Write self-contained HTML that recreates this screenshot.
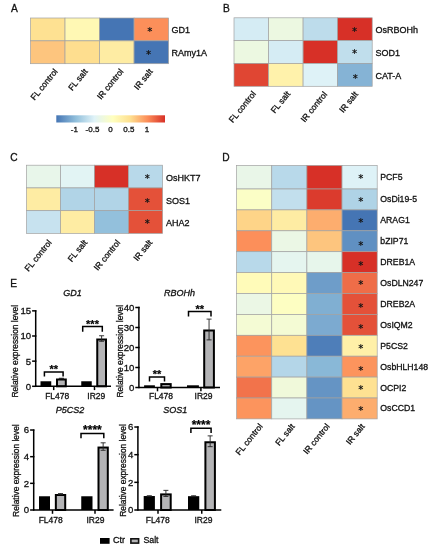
<!DOCTYPE html>
<html><head><meta charset="utf-8"><title>Figure</title>
<style>
html,body{margin:0;padding:0;background:#fff;}
svg{display:block;font-family:"Liberation Sans",sans-serif;}
text{stroke:#111;stroke-width:.3px;}
.sg{font-weight:bold;fill:#000;stroke:#000;stroke-width:.2px;}
.st{font-family:"DejaVu Sans",sans-serif;font-weight:bold;fill:#151515;stroke:none;}
</style></head><body>
<svg width="432" height="550" viewBox="0 0 432 550">
<rect width="432" height="550" fill="#fff"/>
<text x="11" y="11.9" font-size="10.2" fill="#111">A</text>
<text x="223" y="12" font-size="10.2" fill="#111">B</text>
<text x="10.2" y="160.6" font-size="10.2" fill="#111">C</text>
<text x="222.3" y="160.8" font-size="10.2" fill="#111">D</text>
<text x="10.2" y="287" font-size="10.2" fill="#111">E</text>
<rect x="30.50" y="18.00" width="34.53" height="22.85" fill="#fee192" stroke="#a2a2a2" stroke-width="0.7"/>
<rect x="65.03" y="18.00" width="34.52" height="22.85" fill="#fff8b4" stroke="#a2a2a2" stroke-width="0.7"/>
<rect x="99.55" y="18.00" width="34.52" height="22.85" fill="#4575b4" stroke="#a2a2a2" stroke-width="0.7"/>
<rect x="134.07" y="18.00" width="34.53" height="22.85" fill="#fc8f5a" stroke="#a2a2a2" stroke-width="0.7"/>
<rect x="30.50" y="40.85" width="34.53" height="22.85" fill="#fdc57e" stroke="#a2a2a2" stroke-width="0.7"/>
<rect x="65.03" y="40.85" width="34.52" height="22.85" fill="#fede8f" stroke="#a2a2a2" stroke-width="0.7"/>
<rect x="99.55" y="40.85" width="34.52" height="22.85" fill="#feeca3" stroke="#a2a2a2" stroke-width="0.7"/>
<rect x="134.07" y="40.85" width="34.53" height="22.85" fill="#4575b4" stroke="#a2a2a2" stroke-width="0.7"/>
<text class="st" x="149.75" y="34.65" font-size="9.8" text-anchor="middle">*</text>
<text x="171.60" y="33.23" font-size="9" fill="#111">GD1</text>
<text class="st" x="148.50" y="57.90" font-size="9.8" text-anchor="middle">*</text>
<text x="171.60" y="56.08" font-size="9" fill="#111">RAmy1A</text>
<text transform="translate(58.20,71.70) rotate(-51)" font-size="8.5" text-anchor="end" fill="#111">FL control</text>
<text transform="translate(88.20,71.70) rotate(-51)" font-size="8.5" text-anchor="end" fill="#111">FL salt</text>
<text transform="translate(123.95,71.70) rotate(-51)" font-size="8.5" text-anchor="end" fill="#111">IR control</text>
<text transform="translate(153.20,71.70) rotate(-51)" font-size="8.5" text-anchor="end" fill="#111">IR salt</text>
<defs><linearGradient id="cb" x1="0" x2="1" y1="0" y2="0"><stop offset="0.000" stop-color="#4575b4"/><stop offset="0.180" stop-color="#91bfdb"/><stop offset="0.350" stop-color="#e0f3f8"/><stop offset="0.520" stop-color="#ffffbf"/><stop offset="0.680" stop-color="#fee090"/><stop offset="0.840" stop-color="#fc8d59"/><stop offset="1.000" stop-color="#d73027"/></linearGradient></defs>
<rect x="56.3" y="115.3" width="108.7" height="7.2" fill="url(#cb)"/>
<text x="74.4" y="131.5" font-size="8" text-anchor="middle" fill="#111">-1</text>
<text x="92.5" y="131.5" font-size="8" text-anchor="middle" fill="#111">-0.5</text>
<text x="110.6" y="131.5" font-size="8" text-anchor="middle" fill="#111">0</text>
<text x="128.8" y="131.5" font-size="8" text-anchor="middle" fill="#111">0.5</text>
<text x="146.9" y="131.5" font-size="8" text-anchor="middle" fill="#111">1</text>
<rect x="234.00" y="17.80" width="34.55" height="22.83" fill="#d5ecf4" stroke="#a2a2a2" stroke-width="0.7"/>
<rect x="268.55" y="17.80" width="34.55" height="22.83" fill="#ecf8e1" stroke="#a2a2a2" stroke-width="0.7"/>
<rect x="303.10" y="17.80" width="34.55" height="22.83" fill="#bddceb" stroke="#a2a2a2" stroke-width="0.7"/>
<rect x="337.65" y="17.80" width="34.55" height="22.83" fill="#d73027" stroke="#a2a2a2" stroke-width="0.7"/>
<rect x="234.00" y="40.63" width="34.55" height="22.83" fill="#ecf8e1" stroke="#a2a2a2" stroke-width="0.7"/>
<rect x="268.55" y="40.63" width="34.55" height="22.83" fill="#d5ecf4" stroke="#a2a2a2" stroke-width="0.7"/>
<rect x="303.10" y="40.63" width="34.55" height="22.83" fill="#d73027" stroke="#a2a2a2" stroke-width="0.7"/>
<rect x="337.65" y="40.63" width="34.55" height="22.83" fill="#c0deec" stroke="#a2a2a2" stroke-width="0.7"/>
<rect x="234.00" y="63.47" width="34.55" height="22.83" fill="#e04633" stroke="#a2a2a2" stroke-width="0.7"/>
<rect x="268.55" y="63.47" width="34.55" height="22.83" fill="#fff2ab" stroke="#a2a2a2" stroke-width="0.7"/>
<rect x="303.10" y="63.47" width="34.55" height="22.83" fill="#def2f7" stroke="#a2a2a2" stroke-width="0.7"/>
<rect x="337.65" y="63.47" width="34.55" height="22.83" fill="#85b3d5" stroke="#a2a2a2" stroke-width="0.7"/>
<text class="st" x="354.50" y="34.65" font-size="9.8" text-anchor="middle">*</text>
<text x="375.50" y="33.02" font-size="9" fill="#111">OsRBOHh</text>
<text class="st" x="354.50" y="57.40" font-size="9.8" text-anchor="middle">*</text>
<text x="375.50" y="55.85" font-size="9" fill="#111">SOD1</text>
<text class="st" x="355.25" y="81.65" font-size="9.8" text-anchor="middle">*</text>
<text x="375.50" y="78.68" font-size="9" fill="#111">CAT-A</text>
<text transform="translate(256.45,94.10) rotate(-51)" font-size="8.5" text-anchor="end" fill="#111">FL control</text>
<text transform="translate(290.70,94.10) rotate(-51)" font-size="8.5" text-anchor="end" fill="#111">FL salt</text>
<text transform="translate(327.70,94.50) rotate(-51)" font-size="8.5" text-anchor="end" fill="#111">IR control</text>
<text transform="translate(358.45,94.50) rotate(-51)" font-size="8.5" text-anchor="end" fill="#111">IR salt</text>
<rect x="26.50" y="165.20" width="34.02" height="22.73" fill="#e8f6ea" stroke="#a2a2a2" stroke-width="0.7"/>
<rect x="60.52" y="165.20" width="34.02" height="22.73" fill="#e2f4f4" stroke="#a2a2a2" stroke-width="0.7"/>
<rect x="94.55" y="165.20" width="34.02" height="22.73" fill="#d73027" stroke="#a2a2a2" stroke-width="0.7"/>
<rect x="128.57" y="165.20" width="34.03" height="22.73" fill="#b8d9ea" stroke="#a2a2a2" stroke-width="0.7"/>
<rect x="26.50" y="187.93" width="34.02" height="22.73" fill="#feeca3" stroke="#a2a2a2" stroke-width="0.7"/>
<rect x="60.52" y="187.93" width="34.02" height="22.73" fill="#b1d4e7" stroke="#a2a2a2" stroke-width="0.7"/>
<rect x="94.55" y="187.93" width="34.02" height="22.73" fill="#b1d4e7" stroke="#a2a2a2" stroke-width="0.7"/>
<rect x="128.57" y="187.93" width="34.03" height="22.73" fill="#e45139" stroke="#a2a2a2" stroke-width="0.7"/>
<rect x="26.50" y="210.67" width="34.02" height="22.73" fill="#c7e2ef" stroke="#a2a2a2" stroke-width="0.7"/>
<rect x="60.52" y="210.67" width="34.02" height="22.73" fill="#feeca3" stroke="#a2a2a2" stroke-width="0.7"/>
<rect x="94.55" y="210.67" width="34.02" height="22.73" fill="#93c0dc" stroke="#a2a2a2" stroke-width="0.7"/>
<rect x="128.57" y="210.67" width="34.03" height="22.73" fill="#e45139" stroke="#a2a2a2" stroke-width="0.7"/>
<text class="st" x="147.25" y="182.40" font-size="9.8" text-anchor="middle">*</text>
<text x="166.00" y="180.77" font-size="9" fill="#111">OsHKT7</text>
<text class="st" x="147.25" y="206.15" font-size="9.8" text-anchor="middle">*</text>
<text x="166.00" y="203.50" font-size="9" fill="#111">SOS1</text>
<text class="st" x="147.25" y="227.15" font-size="9.8" text-anchor="middle">*</text>
<text x="166.00" y="226.23" font-size="9" fill="#111">AHA2</text>
<text transform="translate(52.20,242.80) rotate(-51)" font-size="8.5" text-anchor="end" fill="#111">FL control</text>
<text transform="translate(87.70,242.80) rotate(-51)" font-size="8.5" text-anchor="end" fill="#111">FL salt</text>
<text transform="translate(120.70,242.80) rotate(-51)" font-size="8.5" text-anchor="end" fill="#111">IR control</text>
<text transform="translate(152.70,242.80) rotate(-51)" font-size="8.5" text-anchor="end" fill="#111">IR salt</text>
<rect x="236.60" y="165.40" width="35.15" height="23.60" fill="#e9f6e8" stroke="#a2a2a2" stroke-width="0.7"/>
<rect x="271.75" y="165.40" width="35.15" height="23.60" fill="#b8d9ea" stroke="#a2a2a2" stroke-width="0.7"/>
<rect x="306.90" y="165.40" width="35.15" height="23.60" fill="#d73027" stroke="#a2a2a2" stroke-width="0.7"/>
<rect x="342.05" y="165.40" width="35.15" height="23.60" fill="#def2f7" stroke="#a2a2a2" stroke-width="0.7"/>
<rect x="236.60" y="189.00" width="35.15" height="20.90" fill="#fbfec6" stroke="#a2a2a2" stroke-width="0.7"/>
<rect x="271.75" y="189.00" width="35.15" height="20.90" fill="#c2dfed" stroke="#a2a2a2" stroke-width="0.7"/>
<rect x="306.90" y="189.00" width="35.15" height="20.90" fill="#db3b2d" stroke="#a2a2a2" stroke-width="0.7"/>
<rect x="342.05" y="189.00" width="35.15" height="20.90" fill="#afd3e6" stroke="#a2a2a2" stroke-width="0.7"/>
<rect x="236.60" y="209.90" width="35.15" height="20.90" fill="#fed488" stroke="#a2a2a2" stroke-width="0.7"/>
<rect x="271.75" y="209.90" width="35.15" height="20.90" fill="#feeca3" stroke="#a2a2a2" stroke-width="0.7"/>
<rect x="306.90" y="209.90" width="35.15" height="20.90" fill="#fdad6e" stroke="#a2a2a2" stroke-width="0.7"/>
<rect x="342.05" y="209.90" width="35.15" height="20.90" fill="#4575b4" stroke="#a2a2a2" stroke-width="0.7"/>
<rect x="236.60" y="230.80" width="35.15" height="20.90" fill="#fc8f5a" stroke="#a2a2a2" stroke-width="0.7"/>
<rect x="271.75" y="230.80" width="35.15" height="20.90" fill="#ebf7e5" stroke="#a2a2a2" stroke-width="0.7"/>
<rect x="306.90" y="230.80" width="35.15" height="20.90" fill="#fdc57e" stroke="#a2a2a2" stroke-width="0.7"/>
<rect x="342.05" y="230.80" width="35.15" height="20.90" fill="#6090c2" stroke="#a2a2a2" stroke-width="0.7"/>
<rect x="236.60" y="251.70" width="35.15" height="20.90" fill="#b8d9ea" stroke="#a2a2a2" stroke-width="0.7"/>
<rect x="271.75" y="251.70" width="35.15" height="20.90" fill="#e5f5ef" stroke="#a2a2a2" stroke-width="0.7"/>
<rect x="306.90" y="251.70" width="35.15" height="20.90" fill="#e7f6eb" stroke="#a2a2a2" stroke-width="0.7"/>
<rect x="342.05" y="251.70" width="35.15" height="20.90" fill="#d73027" stroke="#a2a2a2" stroke-width="0.7"/>
<rect x="236.60" y="272.60" width="35.15" height="20.90" fill="#fffbb9" stroke="#a2a2a2" stroke-width="0.7"/>
<rect x="271.75" y="272.60" width="35.15" height="20.90" fill="#fff9b7" stroke="#a2a2a2" stroke-width="0.7"/>
<rect x="306.90" y="272.60" width="35.15" height="20.90" fill="#6e9dc9" stroke="#a2a2a2" stroke-width="0.7"/>
<rect x="342.05" y="272.60" width="35.15" height="20.90" fill="#ef6d48" stroke="#a2a2a2" stroke-width="0.7"/>
<rect x="236.60" y="293.50" width="35.15" height="20.90" fill="#ebf7e5" stroke="#a2a2a2" stroke-width="0.7"/>
<rect x="271.75" y="293.50" width="35.15" height="20.90" fill="#fdfec2" stroke="#a2a2a2" stroke-width="0.7"/>
<rect x="306.90" y="293.50" width="35.15" height="20.90" fill="#80afd2" stroke="#a2a2a2" stroke-width="0.7"/>
<rect x="342.05" y="293.50" width="35.15" height="20.90" fill="#e45139" stroke="#a2a2a2" stroke-width="0.7"/>
<rect x="236.60" y="314.40" width="35.15" height="20.90" fill="#f4fbd4" stroke="#a2a2a2" stroke-width="0.7"/>
<rect x="271.75" y="314.40" width="35.15" height="20.90" fill="#f4fbd4" stroke="#a2a2a2" stroke-width="0.7"/>
<rect x="306.90" y="314.40" width="35.15" height="20.90" fill="#7caad0" stroke="#a2a2a2" stroke-width="0.7"/>
<rect x="342.05" y="314.40" width="35.15" height="20.90" fill="#e45139" stroke="#a2a2a2" stroke-width="0.7"/>
<rect x="236.60" y="335.30" width="35.15" height="20.90" fill="#fc945d" stroke="#a2a2a2" stroke-width="0.7"/>
<rect x="271.75" y="335.30" width="35.15" height="20.90" fill="#fee192" stroke="#a2a2a2" stroke-width="0.7"/>
<rect x="306.90" y="335.30" width="35.15" height="20.90" fill="#4e7eb9" stroke="#a2a2a2" stroke-width="0.7"/>
<rect x="342.05" y="335.30" width="35.15" height="20.90" fill="#fff0a8" stroke="#a2a2a2" stroke-width="0.7"/>
<rect x="236.60" y="356.20" width="35.15" height="20.90" fill="#fda367" stroke="#a2a2a2" stroke-width="0.7"/>
<rect x="271.75" y="356.20" width="35.15" height="20.90" fill="#b4d6e8" stroke="#a2a2a2" stroke-width="0.7"/>
<rect x="306.90" y="356.20" width="35.15" height="20.90" fill="#89b8d7" stroke="#a2a2a2" stroke-width="0.7"/>
<rect x="342.05" y="356.20" width="35.15" height="20.90" fill="#fc945d" stroke="#a2a2a2" stroke-width="0.7"/>
<rect x="236.60" y="377.10" width="35.15" height="20.90" fill="#f2734b" stroke="#a2a2a2" stroke-width="0.7"/>
<rect x="271.75" y="377.10" width="35.15" height="20.90" fill="#f0f9da" stroke="#a2a2a2" stroke-width="0.7"/>
<rect x="306.90" y="377.10" width="35.15" height="20.90" fill="#6594c4" stroke="#a2a2a2" stroke-width="0.7"/>
<rect x="342.05" y="377.10" width="35.15" height="20.90" fill="#fee192" stroke="#a2a2a2" stroke-width="0.7"/>
<rect x="236.60" y="398.00" width="35.15" height="20.90" fill="#fc945d" stroke="#a2a2a2" stroke-width="0.7"/>
<rect x="271.75" y="398.00" width="35.15" height="20.90" fill="#e5f5ef" stroke="#a2a2a2" stroke-width="0.7"/>
<rect x="306.90" y="398.00" width="35.15" height="20.90" fill="#6594c4" stroke="#a2a2a2" stroke-width="0.7"/>
<rect x="342.05" y="398.00" width="35.15" height="20.90" fill="#fdad6e" stroke="#a2a2a2" stroke-width="0.7"/>
<text class="st" x="360.80" y="181.65" font-size="9.8" text-anchor="middle">*</text>
<text x="380.30" y="180.20" font-size="8.7" fill="#111">PCF5</text>
<text class="st" x="360.80" y="204.60" font-size="9.8" text-anchor="middle">*</text>
<text x="380.30" y="202.45" font-size="8.7" fill="#111">OsDi19-5</text>
<text class="st" x="360.80" y="226.20" font-size="9.8" text-anchor="middle">*</text>
<text x="380.30" y="223.35" font-size="8.7" fill="#111">ARAG1</text>
<text class="st" x="360.80" y="249.15" font-size="9.8" text-anchor="middle">*</text>
<text x="380.30" y="244.25" font-size="8.7" fill="#111">bZIP71</text>
<text class="st" x="360.80" y="268.90" font-size="9.8" text-anchor="middle">*</text>
<text x="380.30" y="265.15" font-size="8.7" fill="#111">DREB1A</text>
<text class="st" x="360.80" y="288.30" font-size="9.8" text-anchor="middle">*</text>
<text x="380.30" y="286.05" font-size="8.7" fill="#111">OsDLN247</text>
<text class="st" x="360.80" y="310.80" font-size="9.8" text-anchor="middle">*</text>
<text x="380.30" y="306.95" font-size="8.7" fill="#111">DREB2A</text>
<text class="st" x="360.80" y="331.65" font-size="9.8" text-anchor="middle">*</text>
<text x="380.30" y="327.85" font-size="8.7" fill="#111">OsIQM2</text>
<text class="st" x="360.80" y="351.65" font-size="9.8" text-anchor="middle">*</text>
<text x="380.30" y="348.75" font-size="8.7" fill="#111">P5CS2</text>
<text class="st" x="360.80" y="373.50" font-size="9.8" text-anchor="middle">*</text>
<text x="380.30" y="369.65" font-size="8.7" fill="#111">OsbHLH148</text>
<text class="st" x="360.80" y="393.30" font-size="9.8" text-anchor="middle">*</text>
<text x="380.30" y="390.55" font-size="8.7" fill="#111">OCPI2</text>
<text class="st" x="360.80" y="414.15" font-size="9.8" text-anchor="middle">*</text>
<text x="380.30" y="411.45" font-size="8.7" fill="#111">OsCCD1</text>
<text transform="translate(263.20,426.60) rotate(-51)" font-size="8.5" text-anchor="end" fill="#111">FL control</text>
<text transform="translate(295.20,426.60) rotate(-51)" font-size="8.5" text-anchor="end" fill="#111">FL salt</text>
<text transform="translate(330.20,426.60) rotate(-51)" font-size="8.5" text-anchor="end" fill="#111">IR control</text>
<text transform="translate(365.20,426.60) rotate(-51)" font-size="8.5" text-anchor="end" fill="#111">IR salt</text>
<text x="72.5" y="296.4" font-size="9" font-style="italic" text-anchor="middle" fill="#111">GD1</text>
<rect x="40.5" y="381.27" width="10.75" height="5.03" fill="#000"/>
<rect x="57" y="379.50" width="8.8" height="6.80" fill="#b4b4b6" stroke="#000" stroke-width="2"/>
<path d="M61.40 378.25V378.76M58.90 378.25H63.90M58.90 378.76H63.90" stroke="#222" stroke-width="0.9" fill="none"/>
<rect x="81.25" y="381.27" width="10.5" height="5.03" fill="#000"/>
<rect x="97.25" y="339.51" width="8.75" height="46.79" fill="#b4b4b6" stroke="#000" stroke-width="2"/>
<path d="M101.62 335.75V341.28M99.12 335.75H104.12M99.12 341.28H104.12" stroke="#222" stroke-width="0.9" fill="none"/>
<path d="M35.7 310.30V386.30H111" stroke="#000" stroke-width="1.5" fill="none"/>
<path d="M32.1 386.30H36.4" stroke="#000" stroke-width="1.5"/>
<text x="31.2" y="389.70" font-size="9.6" text-anchor="end" fill="#111">0</text>
<path d="M32.1 361.15H36.4" stroke="#000" stroke-width="1.5"/>
<text x="31.2" y="364.55" font-size="9.6" text-anchor="end" fill="#111">5</text>
<path d="M32.1 336.00H36.4" stroke="#000" stroke-width="1.5"/>
<text x="31.2" y="339.40" font-size="9.6" text-anchor="end" fill="#111">10</text>
<path d="M32.1 310.85H36.4" stroke="#000" stroke-width="1.5"/>
<text x="31.2" y="314.25" font-size="9.6" text-anchor="end" fill="#111">15</text>
<path d="M53.7 386.30V390.10" stroke="#000" stroke-width="1.5"/>
<path d="M94.5 386.30V390.10" stroke="#000" stroke-width="1.5"/>
<path d="M44.4 376.5V372.1H63.1V376.5" stroke="#000" stroke-width="1.5" fill="none"/>
<text class="sg" x="53.75" y="373.3" font-size="11" text-anchor="middle">**</text>
<path d="M82.7 331.8V326.4H102.3V331.8" stroke="#000" stroke-width="1.5" fill="none"/>
<text class="sg" x="92.5" y="327.6" font-size="11" text-anchor="middle">***</text>
<text x="57.2" y="398.5" font-size="8.5" text-anchor="middle" fill="#111">FL478</text>
<text x="96.3" y="398.5" font-size="8.5" text-anchor="middle" fill="#111">IR29</text>
<text transform="translate(18.4,351.3) rotate(-90)" font-size="8.4" text-anchor="middle" fill="#111">Relative expression level</text>
<text x="179.6" y="296.4" font-size="9" font-style="italic" text-anchor="middle" fill="#111">RBOHh</text>
<rect x="144.1" y="385.30" width="10.8" height="2.20" fill="#000"/>
<rect x="161.3" y="384.10" width="9.4" height="3.40" fill="#b4b4b6" stroke="#000" stroke-width="2"/>
<rect x="187" y="385.30" width="11.9" height="2.20" fill="#000"/>
<rect x="204.2" y="330.50" width="9.7" height="57.00" fill="#b4b4b6" stroke="#000" stroke-width="2"/>
<path d="M209.05 319.10V339.90M206.55 319.10H211.55M206.55 339.90H211.55" stroke="#222" stroke-width="0.9" fill="none"/>
<path d="M138.9 306.80V387.50H220" stroke="#000" stroke-width="1.5" fill="none"/>
<path d="M135.3 387.50H139.6" stroke="#000" stroke-width="1.5"/>
<text x="134.4" y="390.90" font-size="9.6" text-anchor="end" fill="#111">0</text>
<path d="M135.3 367.50H139.6" stroke="#000" stroke-width="1.5"/>
<text x="134.4" y="370.90" font-size="9.6" text-anchor="end" fill="#111">10</text>
<path d="M135.3 347.50H139.6" stroke="#000" stroke-width="1.5"/>
<text x="134.4" y="350.90" font-size="9.6" text-anchor="end" fill="#111">20</text>
<path d="M135.3 327.50H139.6" stroke="#000" stroke-width="1.5"/>
<text x="134.4" y="330.90" font-size="9.6" text-anchor="end" fill="#111">30</text>
<path d="M135.3 307.50H139.6" stroke="#000" stroke-width="1.5"/>
<text x="134.4" y="310.90" font-size="9.6" text-anchor="end" fill="#111">40</text>
<path d="M157.5 387.50V391.30" stroke="#000" stroke-width="1.5"/>
<path d="M200.9 387.50V391.30" stroke="#000" stroke-width="1.5"/>
<path d="M149.5 381.4V377H164.5V381.4" stroke="#000" stroke-width="1.5" fill="none"/>
<text class="sg" x="157" y="378.2" font-size="11" text-anchor="middle">**</text>
<path d="M188.5 316.5V311.5H211V316.5" stroke="#000" stroke-width="1.5" fill="none"/>
<text class="sg" x="199.75" y="312.7" font-size="11" text-anchor="middle">**</text>
<text x="161" y="398.6" font-size="8.5" text-anchor="middle" fill="#111">FL478</text>
<text x="203.6" y="398.6" font-size="8.5" text-anchor="middle" fill="#111">IR29</text>
<text transform="translate(123,351.3) rotate(-90)" font-size="8.4" text-anchor="middle" fill="#111">Relative expression level</text>
<text x="70" y="413.2" font-size="9" font-style="italic" text-anchor="middle" fill="#111">P5CS2</text>
<rect x="39" y="496.27" width="11" height="13.73" fill="#000"/>
<rect x="55.85" y="495.00" width="9.35" height="15.00" fill="#b4b4b6" stroke="#000" stroke-width="2"/>
<path d="M60.53 493.60V494.40M58.03 493.60H63.03M58.03 494.40H63.03" stroke="#222" stroke-width="0.9" fill="none"/>
<rect x="81.25" y="496.27" width="11.25" height="13.73" fill="#000"/>
<rect x="98.5" y="447.55" width="9.3" height="62.45" fill="#b4b4b6" stroke="#000" stroke-width="2"/>
<path d="M103.15 442.82V450.28M100.65 442.82H105.65M100.65 450.28H105.65" stroke="#222" stroke-width="0.9" fill="none"/>
<path d="M33.7 429.40V510.00H113.6" stroke="#000" stroke-width="1.5" fill="none"/>
<path d="M30.1 510.00H34.4" stroke="#000" stroke-width="1.5"/>
<text x="29.2" y="513.40" font-size="9.6" text-anchor="end" fill="#111">0</text>
<path d="M30.1 483.34H34.4" stroke="#000" stroke-width="1.5"/>
<text x="29.2" y="486.74" font-size="9.6" text-anchor="end" fill="#111">2</text>
<path d="M30.1 456.68H34.4" stroke="#000" stroke-width="1.5"/>
<text x="29.2" y="460.08" font-size="9.6" text-anchor="end" fill="#111">4</text>
<path d="M30.1 430.02H34.4" stroke="#000" stroke-width="1.5"/>
<text x="29.2" y="433.42" font-size="9.6" text-anchor="end" fill="#111">6</text>
<path d="M52.5 510.00V513.80" stroke="#000" stroke-width="1.5"/>
<path d="M95 510.00V513.80" stroke="#000" stroke-width="1.5"/>
<path d="M81 438.3V433.5H103.8V438.3" stroke="#000" stroke-width="1.5" fill="none"/>
<text class="sg" x="92.4" y="434.4" font-size="12" text-anchor="middle">****</text>
<text x="50.7" y="522.8" font-size="8.5" text-anchor="middle" fill="#111">FL478</text>
<text x="95.4" y="523.2" font-size="8.5" text-anchor="middle" fill="#111">IR29</text>
<text transform="translate(19,470.6) rotate(-90)" font-size="8.4" text-anchor="middle" fill="#111">Relative expression level</text>
<text x="175.2" y="413.2" font-size="9" font-style="italic" text-anchor="middle" fill="#111">SOS1</text>
<rect x="143.7" y="496.03" width="11.2" height="13.97" fill="#000"/>
<path d="M149.30 495.76V496.31M146.80 495.76H151.80M146.80 496.31H151.80" stroke="#222" stroke-width="0.9" fill="none"/>
<rect x="161.1" y="494.40" width="9.6" height="15.60" fill="#b4b4b6" stroke="#000" stroke-width="2"/>
<path d="M165.90 490.36V496.45M163.40 490.36H168.40M163.40 496.45H168.40" stroke="#222" stroke-width="0.9" fill="none"/>
<rect x="188" y="496.17" width="11.25" height="13.83" fill="#000"/>
<path d="M193.62 495.76V496.58M191.12 495.76H196.12M191.12 496.58H196.12" stroke="#222" stroke-width="0.9" fill="none"/>
<rect x="205.4" y="442.26" width="9.5" height="67.74" fill="#b4b4b6" stroke="#000" stroke-width="2"/>
<path d="M210.15 435.87V446.66M207.65 435.87H212.65M207.65 446.66H212.65" stroke="#222" stroke-width="0.9" fill="none"/>
<path d="M137.9 426.30V510.00H221.3" stroke="#000" stroke-width="1.5" fill="none"/>
<path d="M134.3 510.00H138.6" stroke="#000" stroke-width="1.5"/>
<text x="133.4" y="513.40" font-size="9.6" text-anchor="end" fill="#111">0</text>
<path d="M134.3 482.34H138.6" stroke="#000" stroke-width="1.5"/>
<text x="133.4" y="485.74" font-size="9.6" text-anchor="end" fill="#111">2</text>
<path d="M134.3 454.68H138.6" stroke="#000" stroke-width="1.5"/>
<text x="133.4" y="458.08" font-size="9.6" text-anchor="end" fill="#111">4</text>
<path d="M134.3 427.02H138.6" stroke="#000" stroke-width="1.5"/>
<text x="133.4" y="430.42" font-size="9.6" text-anchor="end" fill="#111">6</text>
<path d="M158 510.00V513.80" stroke="#000" stroke-width="1.5"/>
<path d="M201.75 510.00V513.80" stroke="#000" stroke-width="1.5"/>
<path d="M190.9 433V428.2H211.1V433" stroke="#000" stroke-width="1.5" fill="none"/>
<text class="sg" x="201" y="428.5" font-size="12" text-anchor="middle">****</text>
<text x="157.75" y="522.6" font-size="8.5" text-anchor="middle" fill="#111">FL478</text>
<text x="203.4" y="522.6" font-size="8.5" text-anchor="middle" fill="#111">IR29</text>
<text transform="translate(126.2,470.5) rotate(-90)" font-size="8.4" text-anchor="middle" fill="#111">Relative expression level</text>
<rect x="100" y="538" width="9.6" height="5.8" fill="#000"/>
<text x="113" y="543.2" font-size="9" fill="#111">Ctr</text>
<rect x="130.9" y="538.8" width="7.7" height="4.3" fill="#b4b4b6" stroke="#111" stroke-width="1.6"/>
<text x="143.4" y="543.2" font-size="8.8" fill="#111">Salt</text>
</svg>
</body></html>
